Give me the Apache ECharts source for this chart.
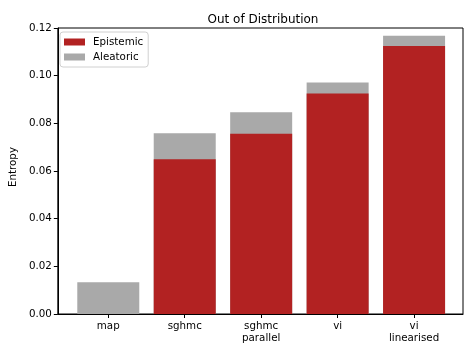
<!DOCTYPE html>
<html>
<head>
<meta charset="utf-8">
<script src="https://cdn.jsdelivr.net/npm/echarts@6/dist/echarts.min.js"></script>
<style>html,body{margin:0;padding:0;background:#fff}#c{width:474px;height:355px}</style>
</head>
<body>
<div id="c"></div>
<script>
const categories = ['map', 'sghmc', 'sghmc\nparallel', 'vi', 'vi\nlinearised'];
const epistemic = [0.0, 0.0649, 0.0756, 0.0925, 0.1124];
const aleatoric = [0.0133, 0.0109, 0.0091, 0.0046, 0.0043];
const yTicks = [0, 0.02, 0.04, 0.06, 0.08, 0.10, 0.12];

const FONT = 'DejaVu Sans';
const positions = categories.map((c, i) => i);
// aleatoric is stacked on top of epistemic
const totals = epistemic.map((v, i) => v + aleatoric[i]);
const chart = echarts.init(document.getElementById('c'), null, {renderer: 'canvas'});
chart.setOption({
  animation: false,
  backgroundColor: '#fff',
  textStyle: {fontFamily: FONT},
  title: {
    text: 'Out of Distribution',
    left: 258, top: 9, textAlign: 'center',
    textStyle: {fontFamily: FONT, fontSize: 12, fontWeight: 'normal', color: '#000'}
  },
  legend: {
    orient: 'vertical', left: 60, top: 32,
    padding: [5, 5, 5, 4],
    itemGap: 5, itemWidth: 21, itemHeight: 7,
    backgroundColor: 'rgba(255,255,255,0.8)',
    borderColor: '#d0d0d0', borderWidth: 1, borderRadius: 3,
    textStyle: {fontFamily: FONT, fontSize: 10.3, color: '#000', padding: [0, 0, 0, 3]},
    data: [{name: 'Epistemic', icon: 'rect'}, {name: 'Aleatoric', icon: 'rect'}]
  },
  grid: {left: 54, right: 11, top: 28, bottom: 41, show: true, borderColor: '#000', borderWidth: 1, backgroundColor: 'transparent'},
  xAxis: {
    type: 'value', min: -0.66, max: 4.64,
    splitLine: {show: false},
    axisLine: {show: true, onZero: false, lineStyle: {color: '#000', width: 1}},
    axisTick: {show: true, customValues: positions, length: 4, lineStyle: {color: '#000'}},
    axisLabel: {
      customValues: positions, color: '#000', fontFamily: FONT, fontSize: 10.3, lineHeight: 12, margin: 6,
      formatter: v => categories[Math.round(v)] || ''
    }
  },
  yAxis: {
    type: 'value', min: 0, max: 0.12, interval: 0.02,
    name: 'Entropy', nameLocation: 'middle', nameRotate: 90, nameGap: 33,
    nameTextStyle: {fontFamily: FONT, fontSize: 10.3, color: '#000', padding: [0, 0, 0, 8]},
    splitLine: {show: false},
    axisLine: {show: true, onZero: false, lineStyle: {color: '#000', width: 1}},
    axisTick: {show: true, length: 4, lineStyle: {color: '#000'}},
    axisLabel: {color: '#000', fontFamily: FONT, fontSize: 10.3, margin: 6,
      formatter: v => v.toFixed(2)}
  },
  series: [
    {name: 'Aleatoric', type: 'bar', barWidth: 62, barGap: '-100%', z: 2,
     itemStyle: {color: '#a9a9a9'},
     data: totals.map((v, i) => [positions[i], v])},
    {name: 'Epistemic', type: 'bar', barWidth: 62, barGap: '-100%', z: 3,
     itemStyle: {color: '#b22222'},
     data: epistemic.map((v, i) => [positions[i], v])}
  ]
});
</script>
</body>
</html>
